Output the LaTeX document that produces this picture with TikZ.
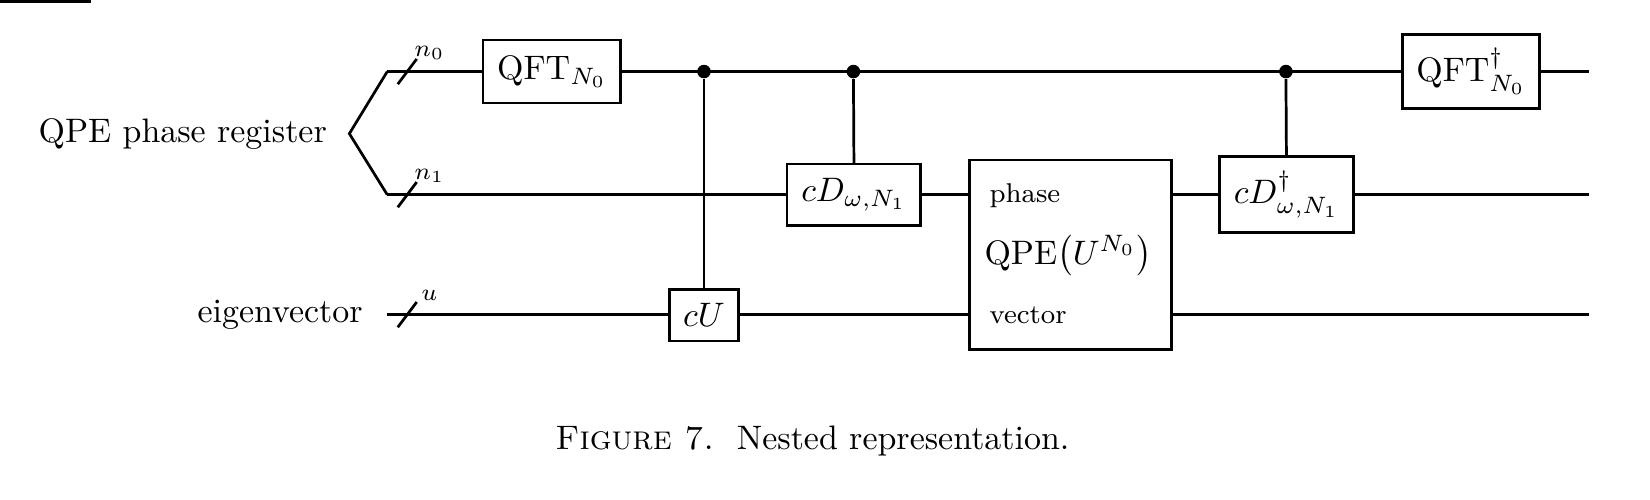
\documentclass[tikz,border=0pt]{standalone}
\begin{document}
\begin{tikzpicture}[x=0.31pt,y=-0.31pt,
  wire/.style={line width=0.8pt},
  gate/.style={draw,line width=0.8pt,fill=white,inner sep=0pt},
  dot/.style={circle,fill=black,inner sep=0pt,minimum size=4pt}]
\useasboundingbox (0,0) rectangle (1568,475);
% wires
\coordinate (t0) at (368,68); \coordinate (t1) at (1510,68);
\coordinate (m0) at (368,185); \coordinate (m1) at (1510,185);
\coordinate (b0) at (368,299); \coordinate (b1) at (1510,299);
\coordinate (tip) at (332,127);
\draw[wire] (t0) -- (t1); \draw[wire] (m0) -- (m1); \draw[wire] (b0) -- (b1);
\draw[wire] (t0) -- (tip) -- (m0);
\node[anchor=east] (lab1) at (322,127) {QPE phase register};
\node[anchor=east] (lab2) at (356,299) {eigenvector};
% slashes
\foreach \y/\n/\t in {68/s0/$n_0$,185/s1/$n_1$,299/s2/$u$}{
  \draw[wire] (378,\y+12) -- (396,\y-12);
  \node[font=\scriptsize] (\n) at (408,\y-18) {\t};
}
% controls
\node[dot] (c1) at (669,68) {};
\node[dot] (c2) at (811,68) {};
\node[dot] (c3) at (1222,68) {};
\node[gate,minimum width=66\pgflinewidth,text width=0pt] at (0,0) {}; 
\node[gate,minimum width=20.5pt,minimum height=15.2pt] (cu) at (669,299.5) {$cU$};
\node[gate,minimum width=39.4pt,minimum height=18pt] (cd) at (811.5,185) {$cD_{\omega,N_1}$};
\node[gate,minimum width=39.4pt,minimum height=22.3pt] (cdd) at (1222.5,185) {$cD^\dagger_{\omega,N_1}$};
\draw[wire] (c1) -- (cu.north);
\draw[wire] (c2) -- (cd.north);
\draw[wire] (c3) -- (cdd.north);
\node[gate,minimum width=40.6pt,minimum height=18.6pt] (qft) at (524.5,68) {QFT$_{N_0}$};
\node[gate,minimum width=40.3pt,minimum height=21.7pt] (iqft) at (1398,68) {QFT$^\dagger_{N_0}$};
\node[gate,minimum width=59.5pt,minimum height=55.8pt] (qpe) at (1017,242) {};
\node (qpet) at (1015,243) {QPE$\left(U^{N_0}\right)$};
\node[anchor=west,font=\footnotesize] (ph) at (929,186) {phase};
\node[anchor=west,font=\footnotesize] (ve) at (929,300) {vector};
\node (cap) at (772,419) {\textsc{Figure 7.}\ \ Nested representation.};
\end{tikzpicture}
\end{document}
